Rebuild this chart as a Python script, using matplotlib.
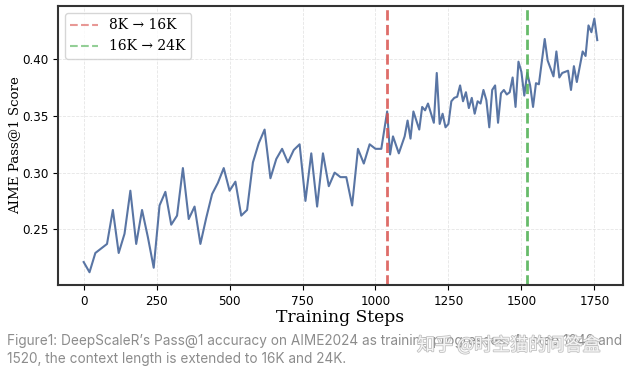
import matplotlib
matplotlib.use('Agg')
import matplotlib.pyplot as plt
import matplotlib.patheffects as pe

# eval every 20 steps up to the 8K->16K switch
steps_a = [0, 20, 40, 60, 80, 100, 120, 140, 160, 180, 200, 220, 240, 260, 280,
           300, 320, 340, 360, 380, 400, 420, 440, 460, 480, 500, 520, 540, 560,
           580, 600, 620, 640, 660, 680, 700, 720, 740, 760, 780, 800, 820, 840,
           860, 880, 900, 920, 940, 960, 980, 1000, 1020, 1040]
score_a = [0.221, 0.212, 0.229, 0.233, 0.237, 0.267, 0.229, 0.246, 0.284, 0.237,
           0.267, 0.243, 0.216, 0.271, 0.283, 0.254, 0.262, 0.304, 0.259, 0.270,
           0.237, 0.260, 0.281, 0.291, 0.304, 0.284, 0.292, 0.262, 0.267, 0.309,
           0.326, 0.338, 0.295, 0.312, 0.321, 0.309, 0.320, 0.325, 0.275, 0.317,
           0.270, 0.317, 0.288, 0.300, 0.296, 0.296, 0.271, 0.321, 0.308, 0.325,
           0.321, 0.321, 0.354]
# denser eval after the switch
steps_b = [1050, 1060, 1080, 1100, 1110, 1120, 1130, 1150, 1160, 1170, 1180, 1200,
           1210, 1220, 1230, 1240, 1250, 1260, 1270, 1280, 1290, 1300, 1310, 1320,
           1330, 1340, 1350, 1360, 1370, 1380, 1390, 1400, 1410, 1420, 1430, 1440,
           1450, 1460, 1470, 1480, 1490, 1500, 1510, 1520, 1530, 1540, 1550, 1560,
           1570, 1580, 1590, 1610, 1620, 1630, 1640, 1660, 1670, 1680, 1690, 1710,
           1720, 1730, 1740, 1750, 1760]
score_b = [0.316, 0.332, 0.317, 0.332, 0.346, 0.330, 0.354, 0.338, 0.358, 0.355,
           0.361, 0.344, 0.388, 0.343, 0.352, 0.340, 0.343, 0.363, 0.366, 0.367,
           0.377, 0.363, 0.371, 0.357, 0.366, 0.352, 0.363, 0.361, 0.373, 0.364,
           0.340, 0.373, 0.377, 0.344, 0.370, 0.373, 0.369, 0.371, 0.384, 0.358,
           0.398, 0.389, 0.368, 0.388, 0.377, 0.358, 0.379, 0.378, 0.398, 0.418,
           0.399, 0.385, 0.407, 0.384, 0.388, 0.390, 0.373, 0.394, 0.380, 0.407,
           0.403, 0.430, 0.424, 0.436, 0.417]

switch_steps = [1040, 1520]
switch_labels = ['8K → 16K', '16K → 24K']

steps = steps_a + steps_b
score = score_a + score_b

fig = plt.figure(figsize=(6.27, 3.71), dpi=100, facecolor='w')
ax = fig.add_axes([0.0925, 0.232, 0.901, 0.752])

ax.plot(steps, score, color='#5975a4', linewidth=1.5)
ax.axvline(switch_steps[0], color='#d9534f', ls='--', lw=2, alpha=0.85, label=switch_labels[0])
ax.axvline(switch_steps[1], color='#4caf50', ls='--', lw=2, alpha=0.85, label=switch_labels[1])

ax.grid(True, color='#cccccc', ls='--', lw=0.6, alpha=0.5)
ax.set_xticks([0, 250, 500, 750, 1000, 1250, 1500, 1750])
ax.set_yticks([0.25, 0.30, 0.35, 0.40])
ax.tick_params(labelsize=8.6)
for s in ax.spines.values():
    s.set_linewidth(1.5)
    s.set_color('#333333')

ax.set_xlabel('Training Steps', family='DejaVu Serif', fontsize=12.3, labelpad=1)
ax.set_ylabel('AIME Pass@1 Score', family='DejaVu Serif', fontsize=9.6, labelpad=0.5)
leg = ax.legend(loc='upper left', prop={'family': 'DejaVu Serif', 'size': 10},
                handlelength=2.0, framealpha=0.8)
for h in leg.get_lines():
    h.set_linewidth(1.5)
    h.set_alpha(0.6)

# caption under the chart
fig.text(0.011, 0.07, 'Figure1: DeepScaleR’s Pass@1 accuracy on AIME2024 as training progresses. At step 1040 and',
         family='Inter', fontsize=9.8, color='#8c8c8c')
fig.text(0.011, 0.022, '1520, the context length is extended to 16K and 24K.',
         family='Inter', fontsize=9.8, color='#8c8c8c')
# zhihu watermark
fig.text(0.665, 0.055, '知乎 @时空猫的问答盒', family=['Noto Sans CJK SC', 'DejaVu Sans'],
         fontsize=13, color='white', alpha=0.85,
         path_effects=[pe.withStroke(linewidth=1.2, foreground='#b8b8b8')])

plt.savefig('out.png', dpi=100)
plt.close(fig)
